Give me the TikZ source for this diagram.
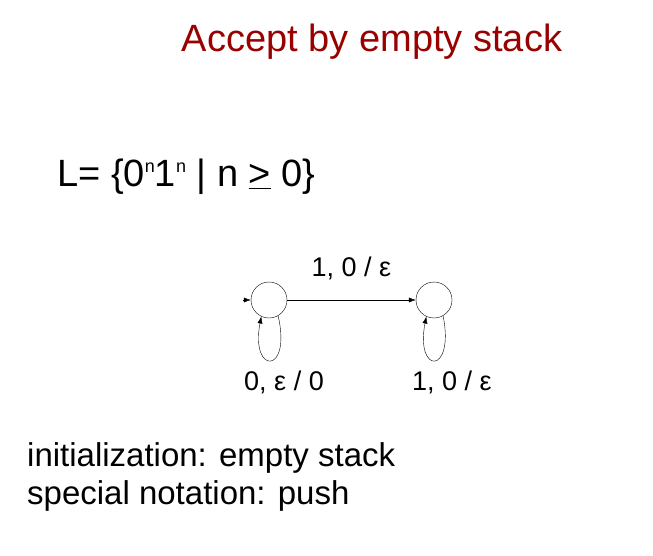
\documentclass[tikz,border=0pt]{standalone}
\usepackage{fontspec}
\setmainfont{Liberation Sans}
\usetikzlibrary{arrows.meta}
\definecolor{dred}{HTML}{990000}
\begin{document}
\begin{tikzpicture}[x=1pt,y=-1pt,
  st/.style={circle,draw,thin,minimum size=36pt,inner sep=0pt},
  lbl/.style={font=\fontsize{27}{30}\selectfont,inner sep=0pt},
  big/.style={font=\fontsize{38}{44}\selectfont,inner sep=0pt},
  bot/.style={font=\fontsize{33}{38}\selectfont,inner sep=0pt},
  >={Latex[length=7pt,width=5pt]}]
\useasboundingbox (0,0) rectangle (653,556);
\node[big,text=dred] (title) at (372,42) {Accept by empty stack};
\node[big,anchor=west] (lang) at (57,177) {L= \{0\raisebox{14pt}{\fontsize{18}{18}\selectfont n}1\raisebox{14pt}{\fontsize{18}{18}\selectfont n} | n \underline{>} 0\}};
\node[st] (q0) at (269,300) {};
\node[st] (q1) at (434,300) {};
\coordinate (s) at (243,300);
\draw[->] (s) -- (q0);
\draw[->] (q0) -- node[lbl,above=20pt] (l1) {1, 0 / ε} (q1);
\draw[->] (q0.-60) .. controls (292,375) and (250,375) .. (q0.-115);
\draw[->] (q1.-60) .. controls (455,375) and (415,375) .. (q1.-115);
\node[lbl] (l0) at (284,382) {0, ε / 0};
\node[lbl] (l2) at (452,382) {1, 0 / ε};
\node[bot,anchor=west] (t1) at (27,458) {initialization: empty stack};
\node[bot,anchor=west] (t2) at (27,496) {special notation: push};
\end{tikzpicture}
\end{document}
